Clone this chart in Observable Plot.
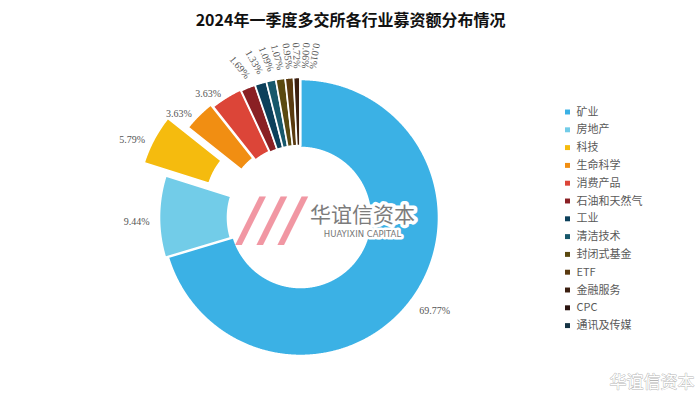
<!DOCTYPE html>
<html><head><meta charset="utf-8">
<script src="https://cdn.jsdelivr.net/npm/d3@7"></script>
<script src="https://cdn.jsdelivr.net/npm/@observablehq/plot@0.6"></script>
<style>body{margin:0;background:#fff;overflow:hidden}</style>
</head><body><div id="chart"></div>
<script>
// ---- data ----
const title = "2024年一季度多交所各行业募资额分布情况";
const categories = ["矿业","房地产","科技","生命科学","消费产品","石油和天然气","工业","清洁技术","封闭式基金","ETF","金融服务","CPC","通讯及传媒"];
const shares = [69.77, 9.44, 5.79, 3.63, 3.63, 1.69, 1.33, 1.09, 1.07, 0.95, 0.72, 0.06, 0.01];
const colors = ["#3bb1e5","#72cce8","#f5bb0e","#f18e12","#dc4538","#8a2024","#0c405b","#17586b","#5a4910","#5a3a10","#3b1f10","#2a1410","#163444"];
const brand = "华谊信资本";
const brandEn = "HUAYIXIN CAPITAL";

// ---- layout ----
const W = 700, H = 394;
const CX = 300, CY = 217, R_OUT = 138, R_IN = 70;
const explode = [0, 3, 28, 6, 3, 2, 2, 2, 2, 2, 2, 2, 2];
const LX = 567, LY0 = 111.5, LSTEP = 17.8;

const total = d3.sum(shares);
const rad = Math.PI / 180;
const slices = [];
const labels = [];
let cum = 0;
let prevLabelDeg = -Infinity;
shares.forEach((v, i) => {
  const a0 = cum / total * 360, a1 = (cum + v) / total * 360;
  cum += v;
  const mid = (a0 + a1) / 2;
  const ox = explode[i] * Math.sin(mid * rad), oy = -explode[i] * Math.cos(mid * rad);
  const n = Math.max(2, Math.ceil((a1 - a0) / 0.25));
  for (let k = 0; k <= n; k++) {
    const a = (a0 + (a1 - a0) * k / n) * rad;
    slices.push({cat: categories[i], x: CX + ox + R_OUT * Math.sin(a), y: CY + oy - R_OUT * Math.cos(a)});
  }
  for (let k = n; k >= 0; k--) {
    const a = (a0 + (a1 - a0) * k / n) * rad;
    slices.push({cat: categories[i], x: CX + ox + R_IN * Math.sin(a), y: CY + oy - R_IN * Math.cos(a)});
  }
  const radial = v < 2;
  let ld = mid;
  if (radial) { ld = Math.max(mid, prevLabelDeg + 3.2); prevLabelDeg = ld; }
  const lr = radial ? R_OUT + 24 : R_OUT + explode[i] + 10;
  labels.push({
    text: v.toFixed(2) + "%",
    x: CX + lr * Math.sin(ld * rad),
    y: CY - lr * Math.cos(ld * rad) + (radial ? 0 : 5),
    rotate: radial ? 90 + 1.8 * (ld - 360) : 0,
    anchor: radial ? "middle" : (ld < 180 ? "start" : "end")
  });
});

const labelMark = (anchor) => Plot.text(labels.filter(d => d.anchor === anchor), {
  x: "x", y: "y", text: "text", rotate: "rotate", textAnchor: anchor,
  fontSize: 10, fill: "#555", fontFamily: "'Liberation Serif', serif"
});

const plot = Plot.plot({
  width: W, height: H, margin: 0,
  x: {domain: [0, W], range: [0, W], axis: null},
  y: {domain: [0, H], range: [0, H], axis: null},
  color: {domain: categories, range: colors},
  style: {fontFamily: "'Noto Sans CJK SC', 'Noto Sans', sans-serif", background: "#fff"},
  marks: [
    Plot.line(slices, {x: "x", y: "y", z: "cat", fill: "cat", stroke: "#fff", strokeWidth: 1.6, curve: "linear-closed"}),
    labelMark("middle"), labelMark("start"), labelMark("end"),
    // center brand
    Plot.text(["///"], {x: () => CX - 28, y: () => CY + 4, fontSize: 58, fontWeight: "bold", fontStyle: "italic", fill: "#ee8593", fillOpacity: 0.85, fontFamily: "DejaVu Sans"}),
    Plot.text([brand], {x: () => CX + 62, y: () => CY - 2, fontSize: 21, fill: "#7c7c7c", stroke: "#fff", strokeWidth: 7}),
    Plot.text([brandEn], {x: () => CX + 62, y: () => CY + 17, fontSize: 8.5, fill: "#777", stroke: "#fff", strokeWidth: 5, letterSpacing: "2.6px", fontFamily: "'DejaVu Sans', sans-serif"}),
    // legend
    Plot.dot(categories, {x: () => LX, y: (d, i) => LY0 + i * LSTEP, fill: d => d, symbol: "square", r: 2.8}),
    Plot.text(categories, {x: () => LX + 9, y: (d, i) => LY0 + i * LSTEP, text: d => d, textAnchor: "start", fontSize: 11, fill: "#595959"}),
    // title
    Plot.text([title], {frameAnchor: "top", dy: 14, fontSize: 16, fontWeight: "bold", fill: "#111"}),
    // watermark
    Plot.text([brand], {frameAnchor: "bottom-right", dx: -6, dy: -7, fontSize: 17, fill: "#fff", stroke: "#b5b5b5", strokeWidth: 0.9, textAnchor: "end"})
  ]
});
document.getElementById("chart").append(plot);
</script>
</body></html>
